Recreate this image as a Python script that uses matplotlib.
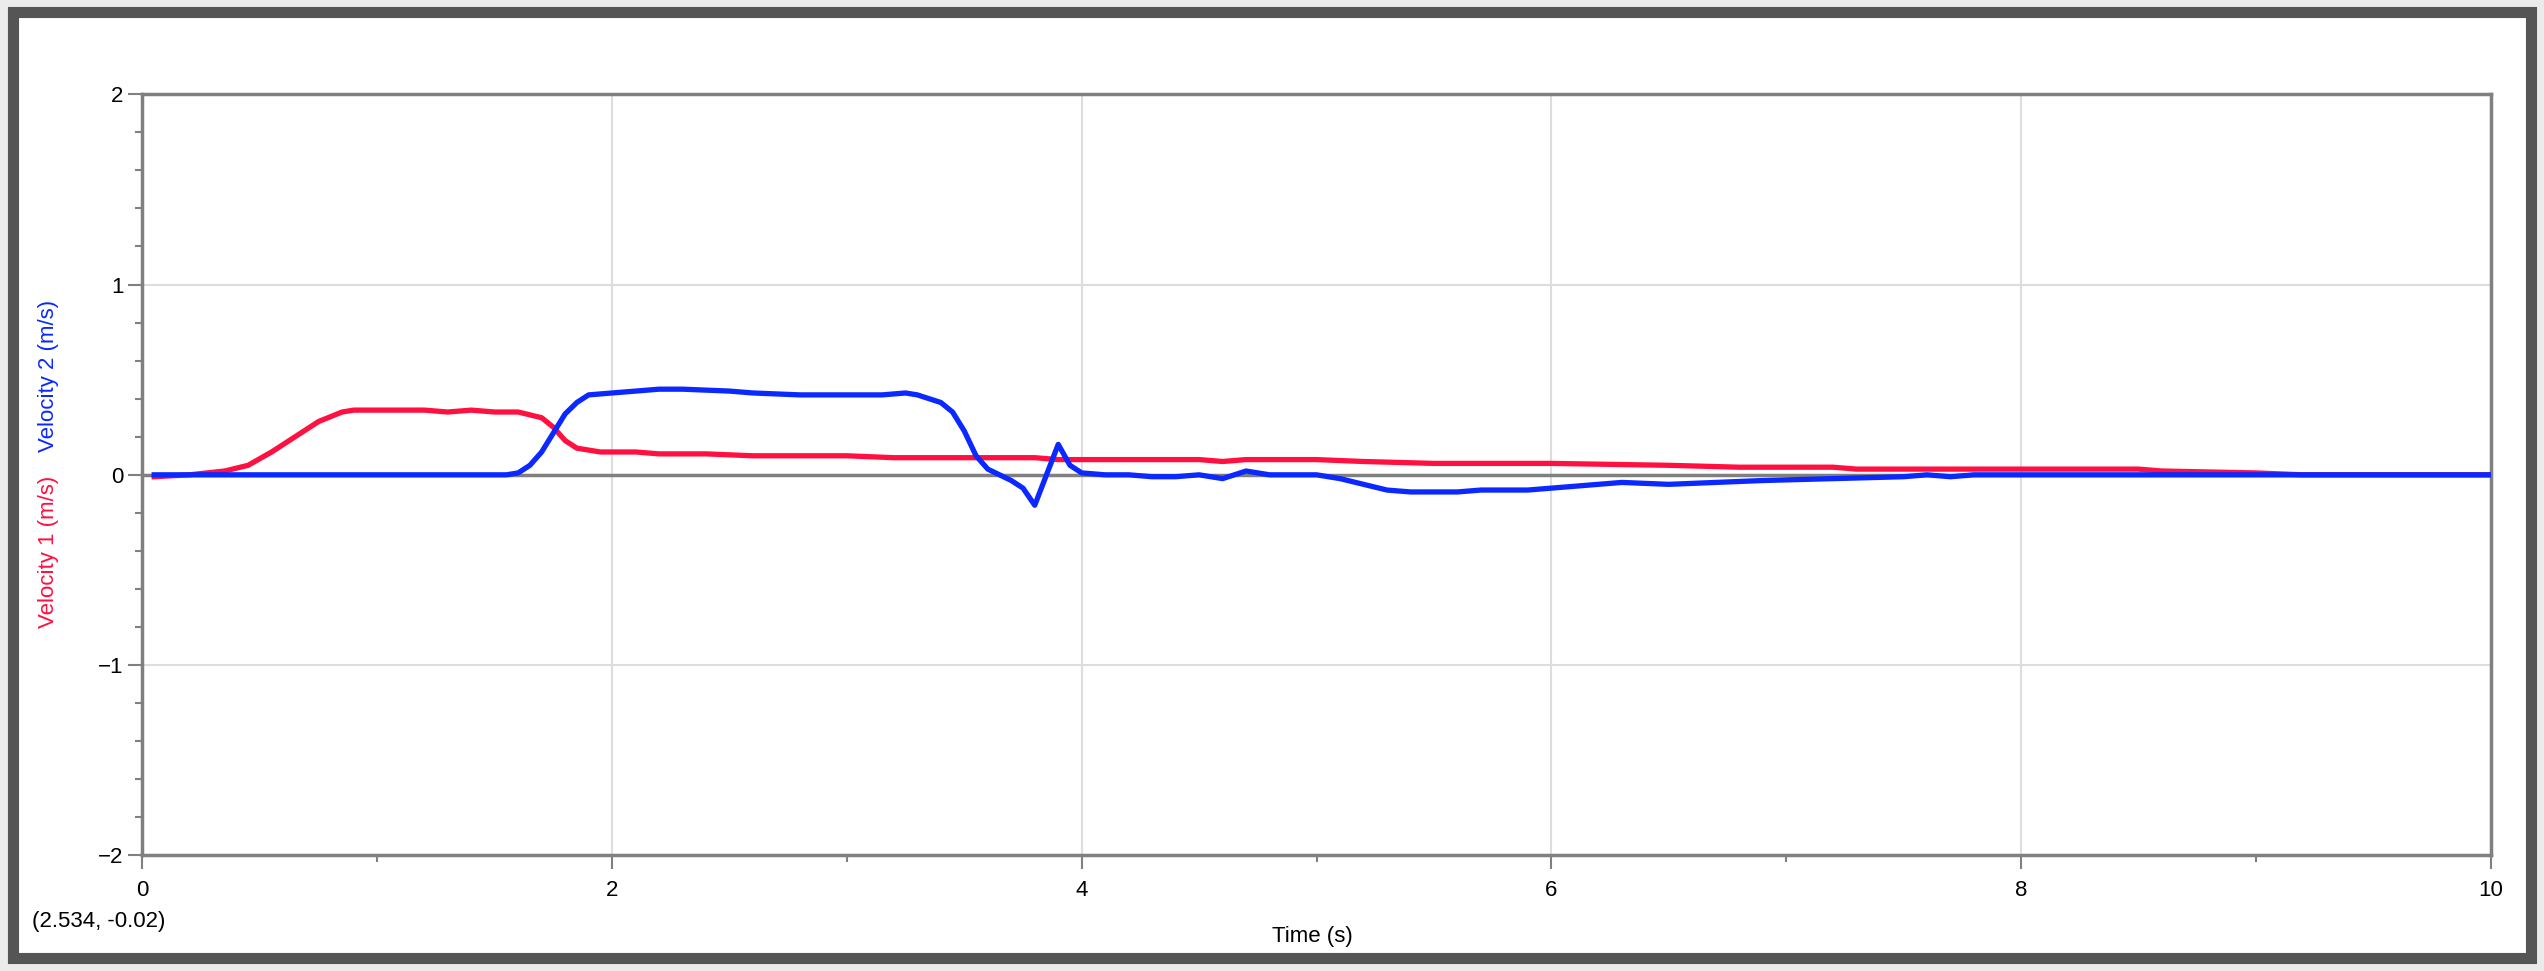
import matplotlib.pyplot as plt
from matplotlib.patches import Rectangle
from matplotlib.ticker import MultipleLocator

plt.rcParams['font.family'] = ['Liberation Sans', 'DejaVu Sans']

# Velocity 1 (red cart)
t1 = [0.05, 0.2, 0.35, 0.45, 0.55, 0.65, 0.75, 0.85, 0.9, 1.0, 1.2, 1.3, 1.4, 1.5, 1.6,
      1.7, 1.75, 1.8, 1.85, 1.95, 2.0, 2.1, 2.2, 2.4, 2.6, 2.8, 3.0, 3.2, 3.5, 3.8, 3.9,
      4.5, 4.6, 4.7, 5.0, 5.2, 5.5, 6.0, 6.5, 6.8, 7.2, 7.3, 8.0, 8.5, 8.6, 9.0, 9.2, 10.0]
v1 = [-0.01, 0.0, 0.02, 0.05, 0.12, 0.2, 0.28, 0.33, 0.34, 0.34, 0.34, 0.33, 0.34, 0.33, 0.33,
      0.3, 0.25, 0.18, 0.14, 0.12, 0.12, 0.12, 0.11, 0.11, 0.1, 0.1, 0.1, 0.09, 0.09, 0.09, 0.08,
      0.08, 0.07, 0.08, 0.08, 0.07, 0.06, 0.06, 0.05, 0.04, 0.04, 0.03, 0.03, 0.03, 0.02, 0.01, 0.0, 0.0]

# Velocity 2 (blue cart)
t2 = [0.05, 1.55, 1.6, 1.65, 1.7, 1.75, 1.8, 1.85, 1.9, 2.0, 2.1, 2.2, 2.3, 2.5, 2.6, 2.8,
      3.0, 3.15, 3.25, 3.3, 3.35, 3.4, 3.45, 3.5, 3.55, 3.6, 3.65, 3.7, 3.75, 3.8, 3.9, 3.95,
      4.0, 4.1, 4.2, 4.3, 4.4, 4.5, 4.6, 4.7, 4.8, 5.0, 5.1, 5.2, 5.3, 5.4, 5.6, 5.7, 5.9,
      6.0, 6.2, 6.3, 6.5, 6.7, 6.9, 7.2, 7.5, 7.6, 7.7, 7.8, 10.0]
v2 = [0.0, 0.0, 0.01, 0.05, 0.12, 0.22, 0.32, 0.38, 0.42, 0.43, 0.44, 0.45, 0.45, 0.44, 0.43, 0.42,
      0.42, 0.42, 0.43, 0.42, 0.40, 0.38, 0.33, 0.23, 0.1, 0.03, 0.0, -0.03, -0.07, -0.16, 0.16, 0.05,
      0.01, 0.0, 0.0, -0.01, -0.01, 0.0, -0.02, 0.02, 0.0, 0.0, -0.02, -0.05, -0.08, -0.09, -0.09, -0.08, -0.08,
      -0.07, -0.05, -0.04, -0.05, -0.04, -0.03, -0.02, -0.01, 0.0, -0.01, 0.0, 0.0]

fig = plt.figure(figsize=(25.44, 9.71), dpi=100)
fig.patch.set_facecolor('#ebebeb')
# dark frame and white panel, behind the axes
fig.patches.append(Rectangle((0.005, 0.013), 0.99, 0.975, transform=fig.transFigure,
                             facecolor='white', edgecolor='#555555', linewidth=8, zorder=-10))

ax = fig.add_axes([0.056, 0.119, 0.923, 0.784])
ax.set_zorder(5)
ax.patch.set_alpha(0)
ax.plot(t1, v1, color='#ff1040', lw=3.8, zorder=3)
ax.plot(t2, v2, color='#0a28ff', lw=3.8, zorder=4)
ax.axhline(0, color='#808080', lw=2.5, zorder=2)

ax.set_xlim(0, 10)
ax.set_ylim(-2, 2)
ax.xaxis.set_major_locator(MultipleLocator(2))
ax.xaxis.set_minor_locator(MultipleLocator(1))
ax.yaxis.set_major_locator(MultipleLocator(1))
ax.yaxis.set_minor_locator(MultipleLocator(0.2))
ax.grid(True, which='major', color='#dddddd', lw=1.5)
for s in ax.spines.values():
    s.set_color('#808080')
    s.set_linewidth(2.5)
ax.tick_params(which='both', colors='#808080', labelcolor='black', labelsize=16, width=1.5)
ax.tick_params(which='major', length=10, direction='out')
ax.tick_params(which='minor', length=5, direction='out')
ax.tick_params(axis='x', pad=8)

fig.text(0.019, 0.432, 'Velocity 1 (m/s)', color='#ff1040', rotation=90, fontsize=16, ha='center', va='center')
fig.text(0.019, 0.613, 'Velocity 2 (m/s)', color='#0a28ff', rotation=90, fontsize=16, ha='center', va='center')
fig.text(0.516, 0.036, 'Time (s)', fontsize=16, ha='center', va='center')
fig.text(0.0126, 0.051, '(2.534, -0.02)', fontsize=16, ha='left', va='center')

fig.savefig('out.png', dpi=100, facecolor=fig.get_facecolor())
